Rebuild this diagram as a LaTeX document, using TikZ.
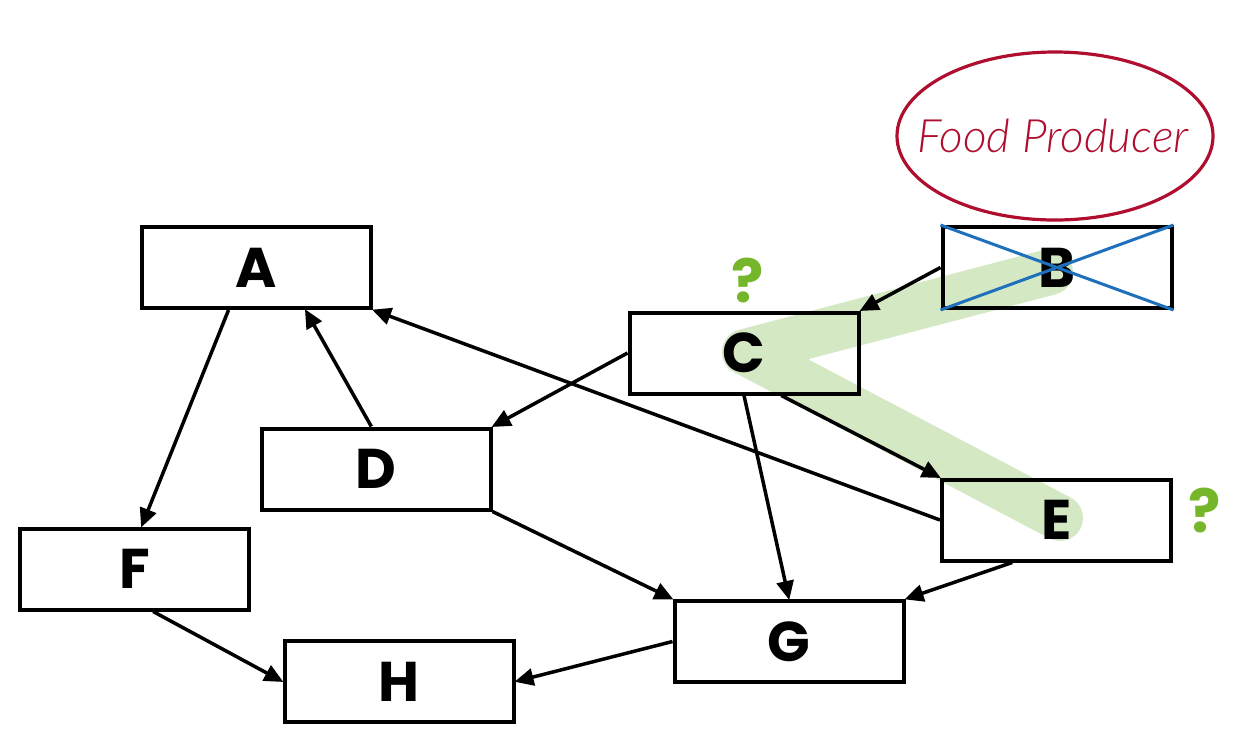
\documentclass[tikz,border=0pt]{standalone}
\usepackage{fontspec}
\setmainfont{Poppins}
\newfontfamily\labelfont{Lato Light}
\usetikzlibrary{arrows.meta,calc}
\definecolor{fpred}{RGB}{176,14,46}
\definecolor{hlgreen}{RGB}{213,232,196}
\definecolor{qgreen}{RGB}{118,182,42}
\definecolor{xblue}{RGB}{30,112,188}
\tikzset{
  boxnode/.style={draw=black,line width=4pt,minimum width=229pt,minimum height=81pt,inner sep=0pt,
    font=\fontsize{56}{56}\selectfont\bfseries},
  arr/.style={line width=3.5pt,-{Triangle[length=19pt,width=17pt]},shorten >=-1pt},
  qmark/.style={text=qgreen,font=\fontsize{60}{60}\selectfont\bfseries,inner sep=0pt},
}
\begin{document}
\begin{tikzpicture}[x=1pt,y=-1pt]
\useasboundingbox (0,0) rectangle (1246,737);
% highlight
\coordinate (hb) at (1050,272);
\coordinate (hc) at (745,352);
\coordinate (he) at (1060,518);
\draw[hlgreen,line width=46pt,line cap=round,line join=round] (hb) -- (hc) -- (he);
% boxes
\node[boxnode] (A) at (256.5,267.5) {A};
\node[boxnode] (B) at (1057,267.5) {B};
\node[boxnode] (C) at (744,353) {C};
\node[boxnode] (D) at (376,469) {D};
\node[boxnode] (E) at (1056.5,520) {E};
\node[boxnode] (F) at (134.5,569) {F};
\node[boxnode] (G) at (789,641.5) {G};
\node[boxnode] (H) at (399,681.5) {H};
% cross on B
\draw[xblue,line width=3pt] (B.north west) -- (B.south east) (B.south west) -- (B.north east);
% ellipse
\node[inner sep=0pt,text=fpred,font=\labelfont\itshape\fontsize{46}{46}\selectfont] (FP) at (1053,136) {Food Producer};
\draw[fpred,line width=3.2pt] (1055,136) ellipse [x radius=158, y radius=84];
% question marks
\node[qmark] (q1) at (748,281) {?};
\node[qmark] (q2) at (1205,510) {?};
% arrows
\draw[arr] (B.west) -- (C.north east);
\draw[arr] (C.west) -- (D.north east);
\draw[arr] ($(D.north west)!0.48!(D.north east)$) -- ($(A.south west)!0.71!(A.south east)$);
\draw[arr] (E.west) -- (A.south east);
\draw[arr] ($(A.south west)!0.38!(A.south east)$) -- ($(F.north west)!0.53!(F.north east)$);
\draw[arr] (C.south) -- (G.north);
\draw[arr] ($(C.south west)!0.66!(C.south east)$) -- (E.north west);
\draw[arr] (D.south east) -- (G.north west);
\draw[arr] ($(E.south west)!0.31!(E.south east)$) -- (G.north east);
\draw[arr] ($(F.south west)!0.58!(F.south east)$) -- (H.west);
\draw[arr] (G.west) -- (H.east);
\end{tikzpicture}
\end{document}
